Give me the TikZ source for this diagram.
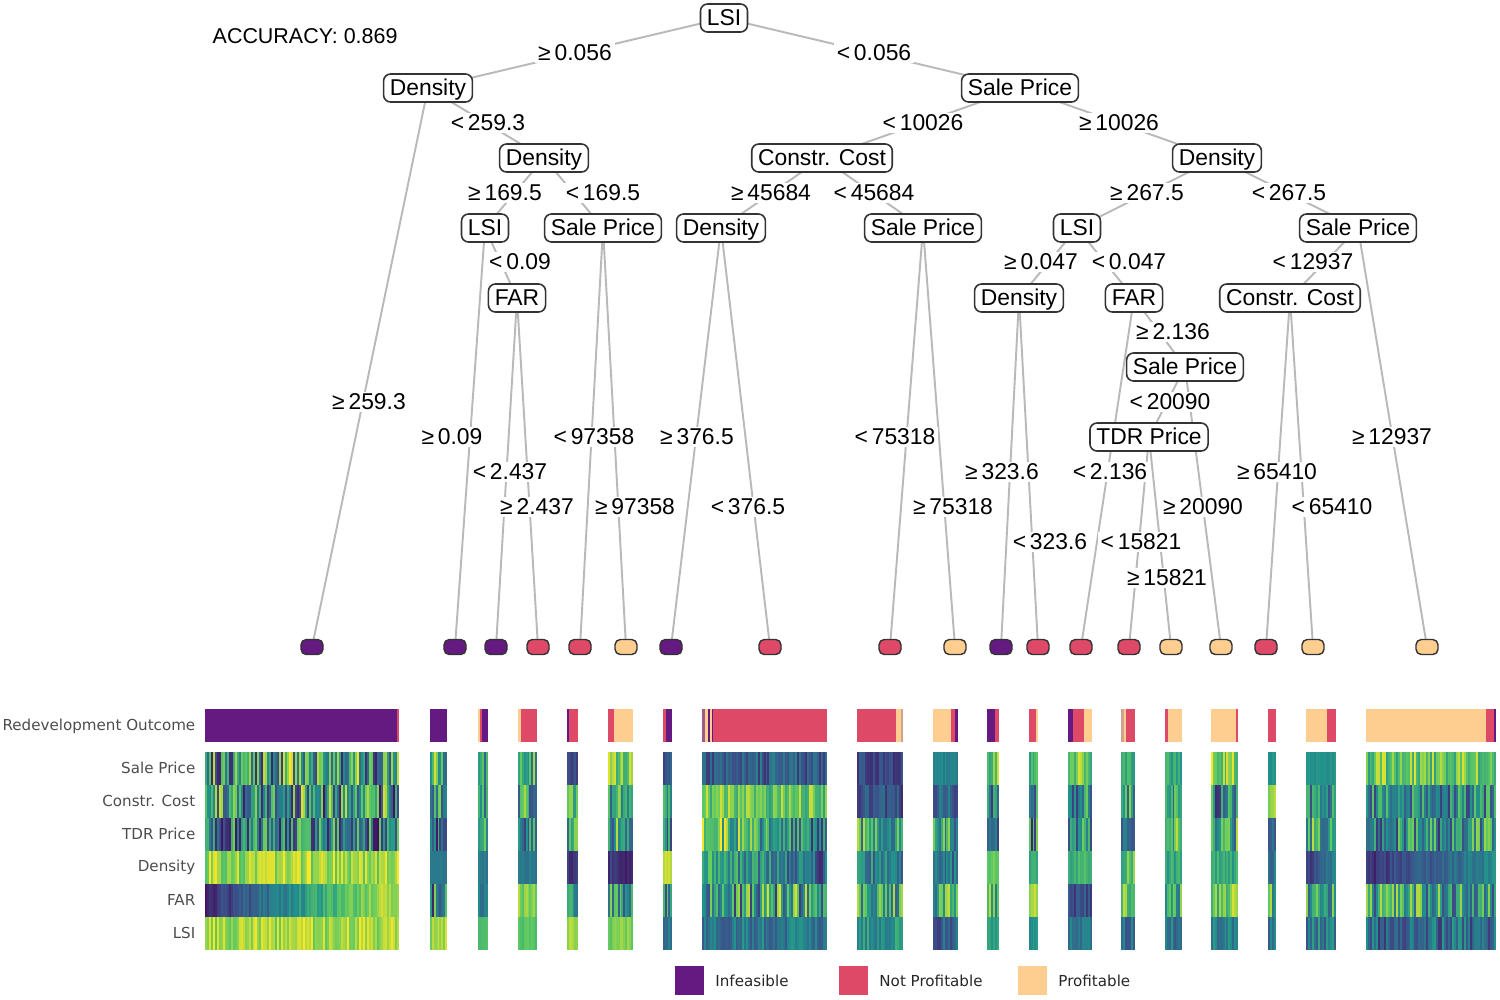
\documentclass[tikz,border=0pt]{standalone}
\usepackage{fontspec}
\setmainfont{Liberation Sans}
\newfontfamily\djv{DejaVu Sans}
\usetikzlibrary{positioning,backgrounds}
\definecolor{infeas}{HTML}{641A80}
\definecolor{notprof}{HTML}{DE4968}
\definecolor{prof}{HTML}{FECE91}
\definecolor{tanish}{HTML}{D0A48C}
\definecolor{mauve}{HTML}{9C5C8A}
\definecolor{edgegray}{HTML}{B9B9B9}
\definecolor{vir0}{HTML}{440154}
\definecolor{vir1}{HTML}{3B528B}
\definecolor{vir2}{HTML}{21918C}
\definecolor{vir3}{HTML}{5EC962}
\definecolor{vir4}{HTML}{FDE725}
\newcommand\setvir[1]{%
  \pgfmathtruncatemacro\vmK{min(3,#1/250)}%
  \pgfmathtruncatemacro\vmP{100-(#1-250*\vmK)/2.5}%
  \ifcase\vmK\relax \colorlet{vc}{vir0!\vmP!vir1}\or \colorlet{vc}{vir1!\vmP!vir2}\or \colorlet{vc}{vir2!\vmP!vir3}\else \colorlet{vc}{vir3!\vmP!vir4}\fi}
\newcommand\hrow[6]{%
  \pgfmathtruncatemacro\hmN{max(1,round((#2-#1)/2))}%
  \pgfmathsetmacro\hmW{(#2-#1)/\hmN}%
  \foreach \hmk in {1,...,\hmN}{%
    \pgfmathsetmacro\hmV{#4+(#5-#4)*((\hmk-0.5)/\hmN)+#6*rand}%
    \pgfmathtruncatemacro\hmI{round(1000*min(1,max(0,\hmV)))}%
    \setvir{\hmI}%
    \pgfmathsetmacro\hmXa{#1+(\hmk-1)*\hmW}%
    \pgfmathsetmacro\hmXb{min(#2,#1+\hmk*\hmW+0.6)}%
    \fill[vc] (\hmXa,#3) rectangle (\hmXb,#3+33);
  }}
\newcommand\hseg[3]{%
  \foreach \hmA/\hmB/\hmS [count=\hmR from 0] in {#3}{\hrow{#1}{#2}{752+33*\hmR}{\hmA}{\hmB}{\hmS}}}

\begin{document}
\begin{tikzpicture}[x=0.01cm, y=-0.01cm,
  split/.style={draw=black!80, line width=0.45pt, rounded corners=2pt, fill=white, inner xsep=1.8pt, inner ysep=0pt, text height=4.9pt, text depth=0.5pt, minimum height=0.28cm, font=\fontsize{6.5}{7}\selectfont},
  leaf/.style={draw=black!80, line width=0.4pt, rounded corners=1.5pt, minimum width=0.22cm, minimum height=0.15cm, inner sep=0},
  edge/.style={edgegray, line width=0.55pt},
  lbl/.style={fill=white, inner xsep=0.8pt, inner ysep=0.5pt, font=\fontsize{6.5}{7}\selectfont},
  rowlbl/.style={anchor=east, inner sep=0, text=black!70, font=\djv\fontsize{4.3}{5}\selectfont},
  key/.style={minimum size=0.29cm, inner sep=0},
  keytxt/.style={inner sep=0, text=black!85, font=\djv\fontsize{4.3}{5}\selectfont}]
\useasboundingbox (0,0) rectangle (1500,999);
\pgfmathsetseed{1234}

\node[anchor=west, inner sep=0, font=\fontsize{6.1}{7}\selectfont] (acc) at (212,36) {ACCURACY: 0.869};

\node[split] (lsi0) at (724,18) {LSI};
\node[split] (dens1) at (428,88) {Density};
\node[split] (sale1) at (1020,88) {Sale Price};
\node[split] (dens2a) at (544,158) {Density};
\node[split] (cost2) at (822,158) {Constr. Cost};
\node[split] (dens2b) at (1217,158) {Density};
\node[split] (lsi3a) at (485,228) {LSI};
\node[split] (sale3a) at (603,228) {Sale Price};
\node[split] (dens3) at (721,228) {Density};
\node[split] (sale3b) at (923,228) {Sale Price};
\node[split] (lsi3b) at (1077,228) {LSI};
\node[split] (sale3c) at (1358,228) {Sale Price};
\node[split] (far4a) at (517,298) {FAR};
\node[split] (dens4) at (1019,298) {Density};
\node[split] (far4b) at (1134,298) {FAR};
\node[split] (cost4) at (1290,298) {Constr. Cost};
\node[split] (sale5) at (1185,367) {Sale Price};
\node[split] (tdr6) at (1149,437) {TDR Price};

\foreach \i/\x/\c in {1/312/infeas, 2/455/infeas, 3/496/infeas, 4/538/notprof, 5/580/notprof, 6/626/prof, 7/671/infeas, 8/770/notprof, 9/890/notprof, 10/955/prof, 11/1001/infeas, 12/1038/notprof, 13/1081/notprof, 14/1129/notprof, 15/1171/prof, 16/1221/prof, 17/1266/notprof, 18/1313/prof, 19/1427/prof}
  \node[leaf, fill=\c] (leaf\i) at (\x,647) {};

\begin{pgfonlayer}{background}
\foreach \a/\b in {lsi0/dens1, lsi0/sale1, dens1/leaf1, dens1/dens2a, sale1/cost2, sale1/dens2b, dens2a/lsi3a, dens2a/sale3a, cost2/dens3, cost2/sale3b, dens2b/lsi3b, dens2b/sale3c, lsi3a/leaf2, lsi3a/far4a, far4a/leaf3, far4a/leaf4, sale3a/leaf5, sale3a/leaf6, dens3/leaf7, dens3/leaf8, sale3b/leaf9, sale3b/leaf10, lsi3b/dens4, lsi3b/far4b, sale3c/cost4, sale3c/leaf19, dens4/leaf11, dens4/leaf12, far4b/leaf13, far4b/sale5, sale5/tdr6, sale5/leaf16, tdr6/leaf14, tdr6/leaf15, cost4/leaf17, cost4/leaf18}
  \draw[edge] (\a.center) -- (\b.center);
\end{pgfonlayer}

\foreach \n/\x/\y/\t in {e1/575/53/{≥\,0.056}, e2/874/53/{<\,0.056}, e3/488/123/{<\,259.3}, e4/369/402/{≥\,259.3}, e5/923/123/{<\,10026}, e6/1119/123/{≥\,10026}, e7/505/193/{≥\,169.5}, e8/603/193/{<\,169.5}, e9/771/193/{≥\,45684}, e10/874/193/{<\,45684}, e11/1147/193/{≥\,267.5}, e12/1289/193/{<\,267.5}, e13/520/262/{<\,0.09}, e14/452/437/{≥\,0.09}, e15/1041/262/{≥\,0.047}, e16/1129/262/{<\,0.047}, e17/1313/262/{<\,12937}, e18/1392/437/{≥\,12937}, e19/510/472/{<\,2.437}, e20/537/507/{≥\,2.437}, e21/594/437/{<\,97358}, e22/635/507/{≥\,97358}, e23/697/437/{≥\,376.5}, e24/748/507/{<\,376.5}, e25/895/437/{<\,75318}, e26/953/507/{≥\,75318}, e27/1002/472/{≥\,323.6}, e28/1050/542/{<\,323.6}, e29/1110/472/{<\,2.136}, e30/1173/332/{≥\,2.136}, e31/1170/402/{<\,20090}, e32/1203/507/{≥\,20090}, e33/1141/542/{<\,15821}, e34/1167/578/{≥\,15821}, e35/1277/472/{≥\,65410}, e36/1332/507/{<\,65410}}
  \node[lbl] (\n) at (\x,\y) {\t};

\foreach \a/\b/\c in {205/397/infeas, 397/399/notprof, 430/447/infeas, 478/480/prof, 480/482/notprof, 482/488/infeas, 518/521/prof, 521/537/notprof, 567/569/infeas, 569/578/notprof, 608/614/notprof, 614/633/prof, 663/666/notprof, 666/672/infeas, 702/705/mauve, 705/708/prof, 708/710/infeas, 710/712/prof, 712/713/infeas, 713/827/notprof, 857/896/notprof, 896/901/prof, 901/903/tanish, 933/951/prof, 951/955/notprof, 955/958/infeas, 987/995/infeas, 995/999/notprof, 1029/1036/notprof, 1036/1038/prof, 1068/1073/infeas, 1073/1084/notprof, 1084/1092/prof, 1121/1124/tanish, 1124/1126/prof, 1126/1135/notprof, 1165/1168/notprof, 1168/1182/prof, 1211/1236/prof, 1236/1238/notprof, 1268/1276/notprof, 1306/1327/prof, 1327/1336/notprof, 1366/1486/prof, 1486/1494/notprof, 1494/1496/infeas}
  \fill[\c] (\a,709) rectangle (\b,742);

\hseg{205}{399}{0.55/0.55/0.45, 0.5/0.5/0.45, 0.42/0.42/0.4, 0.85/0.85/0.15, 0.1/0.92/0.1, 0.87/0.87/0.13}
\hseg{430}{447}{0.55/0.55/0.4, 0.5/0.5/0.35, 0.35/0.35/0.35, 0.4/0.4/0.04, 0.5/0.5/0.4, 0.85/0.85/0.1}
\hseg{478}{488}{0.45/0.45/0.3, 0.6/0.6/0.3, 0.6/0.6/0.3, 0.4/0.4/0.04, 0.4/0.4/0.08, 0.7/0.7/0.04}
\hseg{518}{537}{0.55/0.55/0.4, 0.5/0.5/0.4, 0.5/0.5/0.35, 0.4/0.4/0.05, 0.8/0.8/0.1, 0.72/0.72/0.05}
\hseg{567}{578}{0.25/0.25/0.1, 0.6/0.6/0.3, 0.6/0.6/0.35, 0.15/0.15/0.05, 0.6/0.6/0.35, 0.85/0.85/0.1}
\hseg{608}{633}{0.8/0.8/0.2, 0.5/0.5/0.35, 0.6/0.6/0.4, 0.15/0.15/0.08, 0.55/0.55/0.3, 0.8/0.8/0.1}
\hseg{663}{672}{0.3/0.3/0.1, 0.6/0.6/0.3, 0.45/0.45/0.3, 0.9/0.9/0.05, 0.55/0.55/0.4, 0.4/0.4/0.1}
\hseg{702}{827}{0.3/0.3/0.15, 0.75/0.75/0.2, 0.8/0.35/0.3, 0.6/0.3/0.2, 0.55/0.55/0.4, 0.4/0.4/0.15}
\hseg{857}{903}{0.25/0.25/0.12, 0.25/0.25/0.12, 0.6/0.6/0.3, 0.45/0.45/0.2, 0.6/0.6/0.3, 0.5/0.5/0.15}
\hseg{933}{958}{0.45/0.45/0.05, 0.3/0.3/0.15, 0.6/0.6/0.35, 0.35/0.35/0.2, 0.6/0.6/0.35, 0.3/0.3/0.15}
\hseg{987}{999}{0.75/0.75/0.2, 0.5/0.5/0.35, 0.3/0.3/0.15, 0.75/0.75/0.05, 0.6/0.6/0.3, 0.55/0.55/0.05}
\hseg{1029}{1038}{0.7/0.7/0.2, 0.5/0.5/0.3, 0.5/0.5/0.4, 0.6/0.6/0.05, 0.75/0.75/0.2, 0.5/0.5/0.05}
\hseg{1068}{1092}{0.75/0.75/0.2, 0.5/0.5/0.35, 0.45/0.45/0.35, 0.65/0.65/0.1, 0.25/0.25/0.1, 0.4/0.4/0.1}
\hseg{1121}{1135}{0.6/0.6/0.1, 0.5/0.5/0.35, 0.35/0.35/0.1, 0.7/0.7/0.15, 0.75/0.75/0.2, 0.35/0.35/0.15}
\hseg{1165}{1182}{0.6/0.6/0.1, 0.45/0.45/0.35, 0.6/0.6/0.35, 0.6/0.6/0.1, 0.6/0.6/0.3, 0.4/0.4/0.15}
\hseg{1211}{1238}{0.8/0.8/0.2, 0.45/0.45/0.35, 0.55/0.55/0.35, 0.6/0.6/0.1, 0.7/0.7/0.25, 0.4/0.4/0.15}
\hseg{1268}{1276}{0.5/0.5/0.03, 0.85/0.85/0.1, 0.4/0.4/0.15, 0.4/0.4/0.1, 0.6/0.6/0.3, 0.35/0.35/0.15}
\hseg{1306}{1336}{0.5/0.5/0.04, 0.4/0.4/0.3, 0.6/0.6/0.3, 0.15/0.45/0.05, 0.6/0.6/0.3, 0.4/0.4/0.2}
\hseg{1366}{1496}{0.75/0.75/0.2, 0.45/0.45/0.3, 0.5/0.5/0.35, 0.15/0.45/0.08, 0.55/0.55/0.35, 0.35/0.35/0.2}

\node[rowlbl] (rOut) at (196,726) {Redevelopment Outcome};
\node[rowlbl] (rSale) at (196,768) {Sale Price};
\node[rowlbl] (rCost) at (196,801) {Constr. Cost};
\node[rowlbl] (rTdr) at (196,834) {TDR Price};
\node[rowlbl] (rDens) at (196,867) {Density};
\node[rowlbl] (rFar) at (196,900) {FAR};
\node[rowlbl] (rLsi) at (196,933) {LSI};

\node[key, fill=infeas] (kI) at (689.5,980.5) {};
\node[keytxt, right=0.1cm of kI] (tI) {Infeasible};
\node[key, fill=notprof] (kN) at (853.5,980.5) {};
\node[keytxt, right=0.1cm of kN] (tN) {Not Profitable};
\node[key, fill=prof] (kP) at (1032.5,980.5) {};
\node[keytxt, right=0.1cm of kP] (tP) {Profitable};
\end{tikzpicture}
\end{document}
